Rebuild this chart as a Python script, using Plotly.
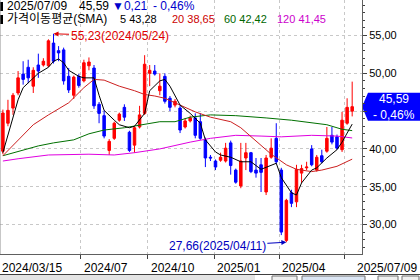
import pandas as pd
import plotly.graph_objects as go

# ---------------- data ----------------
start_date = "2024-03-15"
n_weeks = 70
dates = pd.date_range(start_date, periods=n_weeks, freq="7D")

opens = [39.7, 43.4, 45.4, 47.4, 49.9, 50.8, 48.3, 51.1, 51.1, 51.0,
         54.0, 53.0, 53.1, 49.6, 47.1, 49.6, 49.0, 51.0, 50.7, 45.9,
         44.4, 39.8, 41.4, 43.8, 45.5, 42.2, 40.5, 42.9, 44.7, 50.0,
         50.3, 47.7, 49.6, 46.7, 45.8, 45.4, 42.9, 43.7, 44.1, 43.6,
         41.2, 38.9, 38.4, 38.5, 38.4, 40.8, 37.2, 35.1, 38.8, 39.5,
         37.2, 37.9, 34.3, 38.9, 41.4, 37.2, 27.9, 34.2, 33.0, 36.8,
         37.5, 40.0, 37.2, 39.1, 39.7, 41.8, 41.6, 39.9, 43.4, 45.0]
highs = [45.2, 46.5, 47.4, 50.3, 51.6, 51.8, 50.8, 52.6, 52.0, 54.5,
         55.23, 53.6, 53.4, 50.7, 49.7, 49.9, 51.8, 52.1, 51.1, 46.2,
         45.1, 41.3, 43.6, 44.8, 45.9, 42.4, 43.0, 45.7, 52.4, 51.1,
         51.1, 50.0, 50.0, 47.0, 46.6, 45.8, 44.1, 44.4, 44.7, 44.7,
         41.5, 39.2, 38.6, 39.5, 40.8, 41.1, 37.4, 40.8, 40.8, 39.6,
         38.8, 38.8, 39.2, 41.4, 43.4, 37.5, 33.4, 34.6, 37.9, 37.9,
         38.3, 40.5, 39.2, 39.9, 42.9, 42.9, 41.9, 44.9, 46.7, 48.9]
lows = [39.3, 43.0, 44.5, 47.1, 48.5, 48.7, 47.4, 49.4, 50.9, 50.8,
        51.3, 51.6, 48.5, 47.4, 46.6, 48.1, 48.8, 50.4, 45.3, 43.4,
        41.4, 39.2, 41.2, 43.6, 43.7, 39.6, 39.5, 42.7, 44.5, 48.3,
        49.7, 47.1, 46.0, 45.0, 45.5, 42.1, 42.7, 43.5, 41.4, 41.2,
        37.6, 38.4, 37.2, 38.3, 38.2, 36.6, 35.4, 34.8, 37.2, 36.8,
        36.2, 34.3, 33.9, 38.7, 38.0, 28.6, 27.66, 32.3, 32.3, 35.5,
        37.2, 37.7, 37.0, 38.1, 39.5, 40.6, 39.9, 39.6, 43.2, 44.3]
closes = [44.75, 45.1, 47.1, 49.4, 49.2, 49.4, 50.4, 50.3, 51.6, 54.3,
          51.6, 52.7, 49.0, 47.8, 49.5, 48.4, 51.4, 51.5, 45.7, 44.7,
          41.7, 41.0, 43.4, 44.6, 44.2, 39.8, 42.8, 44.5, 51.2, 50.4,
          49.9, 48.3, 46.3, 45.5, 46.3, 42.5, 43.7, 44.1, 41.8, 41.4,
          38.8, 38.8, 37.6, 38.9, 40.1, 37.8, 35.6, 38.4, 39.5, 37.0,
          36.8, 36.9, 38.8, 40.1, 38.3, 29.0, 33.2, 32.8, 37.3, 37.4,
          37.6, 37.9, 38.9, 38.3, 41.4, 40.9, 40.1, 43.8, 45.5, 45.59]

# moving averages (week index -> value)
sma5_idx = [0, 2, 3, 4, 6, 7, 9, 10, 11, 12, 13, 15, 16, 18, 19, 20, 22, 23, 25, 26,
            28, 29, 31, 32, 33, 34, 35, 37, 39, 40, 42, 43, 45, 47, 49, 51, 53, 54, 55,
            57, 58, 59, 61, 62, 64, 66, 67, 68, 69]
sma5_val = [39.5, 44.1, 46.5, 48.1, 49.4, 50.0, 50.8, 51.6, 51.9, 51.4, 50.4, 49.6, 49.4,
            49.4, 47.1, 45.1, 43.8, 43.2, 42.8, 43.0, 44.7, 47.7, 49.0, 49.2, 48.3, 47.1,
            45.8, 44.7, 43.4, 41.2, 39.6, 39.2, 38.9, 38.3, 38.3, 37.3, 37.9, 38.1, 36.2,
            34.2, 33.9, 35.5, 37.2, 37.5, 38.8, 39.9, 40.9, 42.1, 43.28]
sma20_idx = [0, 6, 9, 13, 16, 17, 18, 20, 23, 26, 28, 30, 32, 34, 35, 38, 41, 45, 47,
             49, 51, 52, 53, 56, 58, 61, 63, 66, 69]
sma20_val = [39.1, 43.2, 44.5, 46.1, 48.1, 48.7, 49.2, 49.1, 48.3, 47.7, 47.2, 47.0,
             46.7, 46.1, 45.8, 44.9, 44.2, 43.6, 42.8, 41.6, 40.5, 39.9, 39.3, 37.9,
             37.3, 37.0, 37.2, 37.7, 38.65]
sma60_idx = [0, 3, 7, 10, 14, 17, 20, 24, 28, 31, 34, 37, 41, 46, 52, 57, 64, 67, 69]
sma60_val = [39.1, 39.7, 40.4, 40.8, 41.2, 42.0, 42.5, 42.8, 43.2, 43.6, 43.6, 44.2,
             44.5, 44.4, 44.1, 43.8, 43.2, 42.6, 42.42]
sma120_idx = [0, 3, 9, 17, 22, 26, 31, 34, 37, 41, 46, 51, 55, 61, 66, 69]
sma120_val = [38.4, 38.7, 39.2, 39.3, 39.2, 39.5, 40.0, 40.5, 40.9, 41.4, 41.8, 41.7,
              41.6, 41.8, 41.7, 41.45]

tick_dates = ["2024-07-01", "2024-10-01", "2025-01-01", "2025-04-01", "2025-07-01"]
tick_labels = ["2024/07", "2024/10", "2025/01", "2025/04", ""]
first_label = "2024/03/15"
last_label = "2025/07/09"
y_ticks = [30, 35, 40, 45, 50, 55]
# the 45,00 label sits under the last-price box in the reference
y_tick_labels = ["30,00", "35,00", "40,00", "", "50,00", "55,00"]

hi_idx, hi_text = 10, "55,23(2024/05/24)"
lo_idx, lo_text = 56, "27,66(2025/04/11)"
last_price_text = "45,59"
last_pct_text = "- 0,46%"

# ---------------- styling ----------------
W, H = 420, 280
ML, MR, MT, MB = 0, 58, 0, 26
PW, PH = W - ML - MR, H - MT - MB
FONT = "Liberation Sans, Arial, Noto Sans CJK KR, sans-serif"
RED, BLUE = "#FF0000", "#0000FF"
Y0, Y1 = 26.1, 59.7


def px_x(p):
    return p / PW


def px_y(p):
    return 1 - p / PH


fig = go.Figure()
fig.add_trace(go.Candlestick(
    x=dates, open=opens, high=highs, low=lows, close=closes,
    increasing=dict(line=dict(color=RED, width=1), fillcolor=RED),
    decreasing=dict(line=dict(color=BLUE, width=1), fillcolor=BLUE),
    whiskerwidth=0, hoverinfo="skip", showlegend=False,
))

for idx, vals, col in [(sma120_idx, sma120_val, "#E000E0"),
                       (sma60_idx, sma60_val, "#007000"),
                       (sma20_idx, sma20_val, "#CC2020"),
                       (sma5_idx, sma5_val, "#000000")]:
    fig.add_trace(go.Scatter(x=[dates[i] for i in idx], y=vals, mode="lines",
                             line=dict(color=col, width=1), showlegend=False,
                             hoverinfo="skip"))

grid = dict(showgrid=True, gridcolor="#C8C8C8", griddash="3px,3px", gridwidth=1)

fig.update_layout(
    width=W, height=H, autosize=False,
    margin=dict(l=ML, r=MR, t=MT, b=MB, pad=0, autoexpand=False),
    paper_bgcolor="white", plot_bgcolor="white",
    separators=",.",
    font=dict(family=FONT, size=11, color="black"),
    xaxis=dict(type="date", range=["2024-03-11", "2025-07-24 14:00"],
               rangeslider=dict(visible=False),
               tickvals=tick_dates, showticklabels=False,
               ticks="outside", ticklen=4, tickcolor="#404040",
               showline=True, linecolor="#606060", linewidth=1,
               zeroline=False, **grid),
    yaxis=dict(side="right", range=[Y0, Y1], tickvals=y_ticks, ticktext=y_tick_labels,
               ticks="outside", ticklen=4, tickcolor="#404040",
               minor=dict(dtick=1, ticks="outside", ticklen=2, tickcolor="#404040",
                          showgrid=False),
               showline=True, linecolor="#606060", linewidth=1,
               tickfont=dict(size=11, color="black", family=FONT),
               zeroline=False, **grid),
)

ann = []
# x axis labels
for d, t in zip(tick_dates, tick_labels):
    if t:
        ann.append(dict(x=d, y=px_y(PH + 5), xref="x", yref="paper", text=t,
                        showarrow=False, xanchor="left", yanchor="top",
                        xshift=1, font=dict(size=12, family=FONT)))
ann.append(dict(x=0, y=px_y(PH + 5), xref="paper", yref="paper", text=first_label,
                showarrow=False, xanchor="left", yanchor="top", font=dict(size=12, family=FONT)))
ann.append(dict(x=px_x(W - 1), y=px_y(PH + 5), xref="paper", yref="paper", text=last_label,
                showarrow=False, xanchor="right", yanchor="top", font=dict(size=12, family=FONT)))

# header lines
header = [
    (5, 6.5, "2025/07/09", "black", 12), (77, 6.5, "45,59", "black", 12),
    (110, 6.5, "▼0,21", "#0000CC", 12), (151, 6.5, "- 0,46%", "#0000CC", 12),
    (5, 19.5, "가격이동평균(SMA)", "black", 12), (118, 19.5, "5 43,28", "black", 11),
    (170, 19.5, "20 38,65", "#CC0000", 11), (222, 19.5, "60 42,42", "#006600", 11),
    (275, 19.5, "120 41,45", "#CC00CC", 11),
]
for x, y, t, c, s in header:
    ann.append(dict(x=px_x(x), y=px_y(y), xref="paper", yref="paper", text=t,
                    showarrow=False, xanchor="left", yanchor="middle",
                    font=dict(size=s, color=c, family=FONT)))

# high / low markers
ann.append(dict(x=dates[hi_idx], y=highs[hi_idx], xref="x", yref="y", text=hi_text,
                showarrow=True, arrowhead=2, arrowsize=1, arrowwidth=1, arrowcolor="#E00000",
                ax=66, ay=2, font=dict(size=12, color="#E00000", family=FONT)))
ann.append(dict(x=dates[lo_idx], y=lows[lo_idx], xref="x", yref="y", text=lo_text,
                showarrow=True, arrowhead=2, arrowsize=1, arrowwidth=1, arrowcolor="#0000C0",
                ax=-69, ay=4, font=dict(size=12, color="#0000C0", family=FONT)))

# last price label
last = closes[-1]
ann.append(dict(x=px_x(394), y=last, xref="paper", yref="y", text=last_price_text,
                showarrow=False, xanchor="center", yanchor="bottom", borderpad=0,
                font=dict(size=12, color="white", family=FONT)))
ann.append(dict(x=px_x(394), y=last, xref="paper", yref="y", text=last_pct_text,
                showarrow=False, xanchor="center", yanchor="top", borderpad=0,
                font=dict(size=12, color="white", family=FONT)))
fig.update_layout(annotations=ann)

# price box (paper coordinates, from the axis scale)
ly = px_y((Y1 - last) / (Y1 - Y0) * PH)
hb = 14 / PH
shapes = [
    dict(type="path", xref="paper", yref="paper",
         path=(f"M {px_x(PW)} {ly} L {px_x(PW + 6)} {ly + hb} L {px_x(W)} {ly + hb} "
               f"L {px_x(W)} {ly - hb} L {px_x(PW + 6)} {ly - hb} Z"),
         fillcolor="#0000FF", line=dict(width=0), layer="below"),
    # header markers
    dict(type="rect", xref="paper", yref="paper", x0=0, x1=px_x(3), y0=px_y(11), y1=px_y(2),
         fillcolor="black", line=dict(width=0)),
    dict(type="rect", xref="paper", yref="paper", x0=0, x1=px_x(3), y0=px_y(24), y1=px_y(15),
         fillcolor="black", line=dict(width=0)),
    # left border
    dict(type="line", xref="paper", yref="paper", x0=0, x1=0, y0=0, y1=1,
         line=dict(color="#909090", width=1)),
    # bottom strip
    dict(type="line", xref="paper", yref="paper", x0=0, x1=px_x(W), y0=px_y(274.5), y1=px_y(274.5),
         line=dict(color="#404040", width=1)),
    dict(type="rect", xref="paper", yref="paper", x0=0, x1=px_x(255), y0=px_y(280), y1=px_y(275),
         fillcolor="#E4E4E4", line=dict(width=0)),
    dict(type="rect", xref="paper", yref="paper", x0=px_x(272), x1=px_x(297), y0=px_y(281), y1=px_y(276),
         fillcolor="#F0F0F0", line=dict(color="#707070", width=1)),
    dict(type="rect", xref="paper", yref="paper", x0=px_x(302), x1=px_x(365), y0=px_y(281), y1=px_y(276),
         fillcolor="#DCE6F4", line=dict(color="#707070", width=1)),
    dict(type="rect", xref="paper", yref="paper", x0=px_x(378), x1=px_x(398), y0=px_y(281), y1=px_y(276),
         fillcolor="#F0F0F0", line=dict(color="#707070", width=1)),
    dict(type="rect", xref="paper", yref="paper", x0=px_x(402), x1=px_x(419), y0=px_y(281), y1=px_y(276),
         fillcolor="#F0F0F0", line=dict(color="#707070", width=1)),
]
fig.update_layout(shapes=shapes)

fig.write_html("out.html")
